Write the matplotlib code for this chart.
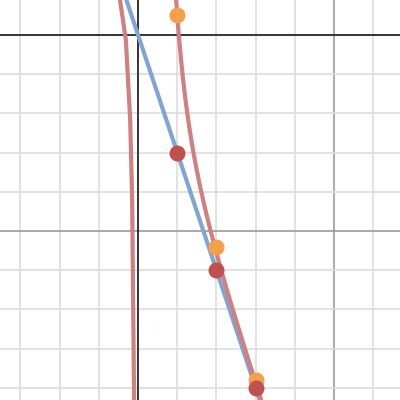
import numpy as np
import matplotlib.pyplot as plt

# sample points
px = [1, 2, 3]
red_y = [-3, -6, -9]
orange_y = [0.5, -5.4, -8.8]
# left branch of red curve
left_x = [-0.46, -0.31, -0.20, -0.15, -0.10]
left_y = [0.89, -0.13, -2.17, -4.21, -9.4]

fig = plt.figure(figsize=(4, 4), dpi=100)
ax = fig.add_axes([0, 0, 1, 1])
xmin, xmax, ymin, ymax = -3.52, 6.68, -9.31, 0.89
ax.set_xlim(xmin, xmax)
ax.set_ylim(ymin, ymax)

for v in range(-3, 7):
    ax.axvline(v, color='#999999' if v % 5 == 0 else '#dddddd', lw=1.2, zorder=0)
for v in range(-9, 1):
    ax.axhline(v, color='#999999' if v % 5 == 0 else '#dddddd', lw=1.2, zorder=0)
ax.axvline(0, color='#222222', lw=1.2, zorder=1)
ax.axhline(0, color='#222222', lw=1.2, zorder=1)

xs = np.linspace(xmin, xmax, 200)
ax.plot(xs, -3 * xs, color='#7fa6d2', lw=3, zorder=2)

xr = np.linspace(0.9, 3.5, 200)
ax.plot(xr, -3 * xr + 3.5 / xr**3, color='#d17f7f', lw=3, zorder=2)
ax.plot(left_x, left_y, color='#d17f7f', lw=3, zorder=2)

ax.scatter(px, orange_y, s=110, color='#f4a04a', zorder=3)
ax.scatter(px, red_y, s=110, color='#c0504d', zorder=3)

ax.set_xticks([])
ax.set_yticks([])
for s in ax.spines.values():
    s.set_visible(False)
fig.savefig('out.png')
